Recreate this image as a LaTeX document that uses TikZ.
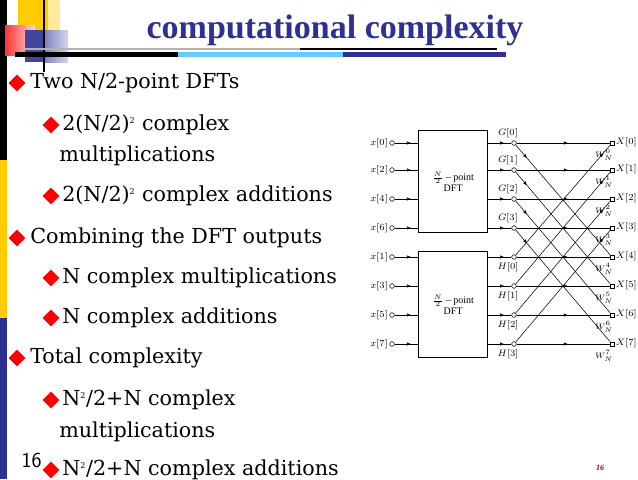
\documentclass[tikz,border=0pt]{standalone}
\usepackage{fontspec}
\setmainfont{Liberation Serif}
\newfontfamily\bodyfont{DejaVu Serif}
\usetikzlibrary{decorations.markings,arrows.meta}
\definecolor{tblue}{HTML}{2E3192}
\definecolor{tyel}{HTML}{FFCC00}
\definecolor{lblue}{HTML}{66CCFF}
\newcommand{\sqr}{\textsuperscript{\fontsize{6}{6}\selectfont 2}}
\tikzset{
 bul/.style={anchor=west,font=\bodyfont\fontsize{15.5}{17}\selectfont,inner sep=0pt},
 dia/.style={fill=red,minimum size=9pt,rotate=45,inner sep=0pt},
 lab/.style={font=\fontsize{7.5}{8}\selectfont,inner sep=1pt},
 dot/.style={circle,draw,inner sep=0pt,minimum size=3.5pt,fill=white},
 midarr/.style={decoration={markings,mark=at position #1 with {\arrow{Latex[length=3pt,width=2.5pt]}}},postaction=decorate},
 dftbox/.style={draw,line width=1pt,anchor=north west,inner sep=0pt}
}
\begin{document}
\begin{tikzpicture}[x=0.75pt,y=-0.75pt]
\useasboundingbox (0,0) rectangle (638,479);
\fill[white] (0,0) rectangle (638,479);
% left bar
\fill[black] (0,0) rectangle (7,160);
\fill[tyel] (0,160) rectangle (7,318);
\fill[tblue] (0,318) rectangle (7,479);
% top decoration
\fill[tyel] (18,0) rectangle (48,35);
\fill[tyel!40] (48,0) rectangle (60,35);
\shade[left color=red!80,right color=red!15] (5,25) rectangle (35,55);
\fill[tblue!90] (25,30) rectangle (45,62);
\shade[left color=tblue!60,right color=tblue!20] (45,30) rectangle (68,62);
\draw[line width=1pt] (44,0) -- (44,72);
\draw[gray!60,line width=1.5pt] (25,49) -- (497,49);
\draw[black,line width=0.8pt] (300,49) -- (497,49);
\fill[black] (15,52) rectangle (178,57);
\fill[lblue] (178,52) rectangle (343,57);
\fill[tblue] (343,52) rectangle (506,57);
\node[font=\fontsize{25.5}{28}\selectfont\bfseries,text=tblue] (title) at (335,30) {computational complexity};
% bullets
\foreach \t/\y in {{Two N/2-point DFTs}/83, {Combining the DFT outputs}/238, {Total complexity}/358}
 {\node[dia] at (17,\y) {}; \node[bul] at (30,\y) {\t};}
\foreach \t/\y in {{2(N/2)\sqr{} complex}/125, {2(N/2)\sqr{} complex additions}/196, {N complex multiplications}/278, {N complex additions}/318, {N\sqr/2+N complex}/400, {N\sqr/2+N complex additions}/470}
 {\node[dia] at (51,\y) {}; \node[bul] at (62,\y) {\t};}
\node[bul] at (59,156) {multiplications};
\node[bul] at (59,432) {multiplications};
\node[font=\sffamily\fontsize{16}{18}\selectfont,anchor=west] (pg) at (17,460) {16};
\node[font=\fontsize{6}{7}\selectfont\itshape\bfseries,text=red!50!black] (pg2) at (600,468) {16};
% diagram
\node[dftbox,minimum width=69*0.75pt,minimum height=102*0.75pt] (b1) at (418,130) {};
\node[dftbox,minimum width=69*0.75pt,minimum height=106*0.75pt] (b2) at (418,251) {};
\node[lab,align=center] at (b1.center) {$\frac{N}{2}$ -- point\\DFT};
\node[lab,align=center] at (b2.center) {$\frac{N}{2}$ -- point\\DFT};
\foreach \i/\n/\y in {0/0/143,1/2/170,2/4/199,3/6/228,4/1/257,5/3/286,6/5/315,7/7/344}{
 \node[dot] (in\i) at (392,\y) {};
 \node[lab,anchor=east] at (in\i.west) {$x[\n]$};
 \coordinate (bi\i) at (418,\y);
 \draw[midarr=0.7] (in\i) -- (bi\i);
 \node[dot] (m\i) at (514,\y) {};
 \coordinate (bo\i) at (487,\y);
 \draw[midarr=0.7] (bo\i) -- (m\i);
 \node[dot,rectangle,minimum size=3pt] (o\i) at (612,\y) {};
 \node[lab,anchor=west] at ([yshift=1pt]o\i.east) {$X[\i]$};
 \node[inner sep=0pt,font=\fontsize{6}{6}\selectfont] at (604,\y+12) {$W_N^{\i}$};
 \draw[midarr=0.55] (m\i) -- (o\i);
}
\node[lab] at (508,133) {$G[0]$};
\node[lab] at (508,160) {$G[1]$};
\node[lab] at (508,189) {$G[2]$};
\node[lab] at (508,218) {$G[3]$};
\node[lab] at (508,267) {$H[0]$};
\node[lab] at (508,296) {$H[1]$};
\node[lab] at (508,325) {$H[2]$};
\node[lab] at (508,354) {$H[3]$};
\foreach \k [evaluate=\k as \j using int(\k+4)] in {0,...,3}{
 \draw[midarr=0.12] (m\k) -- (o\j);
 \draw[midarr=0.93] (m\j) -- (o\k);
}
\end{tikzpicture}
\end{document}
